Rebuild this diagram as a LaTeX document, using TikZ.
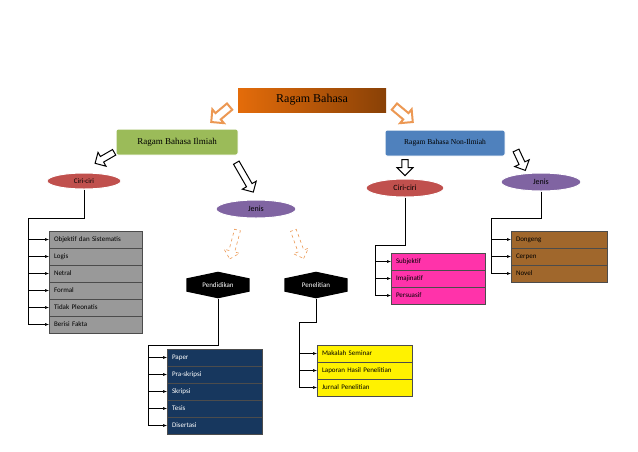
\documentclass[tikz,border=0pt]{standalone}
\usepackage{fontspec}
\setmainfont{Carlito}
\newfontfamily\tnr{Liberation Serif}
\usetikzlibrary{shapes.geometric,shapes.arrows,arrows.meta}
\definecolor{ored}{HTML}{C0504D}
\definecolor{opur}{HTML}{8064A2}
\definecolor{ograss}{HTML}{9BBB59}
\definecolor{oblue}{HTML}{4F81BD}
\definecolor{onavy}{HTML}{17375E}
\definecolor{obrown}{HTML}{A0672C}
\definecolor{opink}{HTML}{FF33AA}
\definecolor{oorange}{HTML}{E46C0A}
\begin{document}
\begin{tikzpicture}[x=1pt,y=-1pt,
 ell/.style={ellipse,draw=white,line width=1pt,minimum width=#1,minimum height=18pt,inner sep=0pt,font=\fontsize{8}{9}\selectfont},
 hex/.style={regular polygon,regular polygon sides=6,shape border rotate=90,fill=black,text=white,minimum size=28pt,inner sep=0pt,xscale=2.6,yscale=0.95,font=\fontsize{7}{8}\selectfont},
 item/.style={draw=black!70,anchor=north west,minimum height=17pt,inner xsep=5pt,inner ysep=2pt,text width=#1,font=\fontsize{7}{8}\selectfont,outer sep=0pt},
 barr/.style={single arrow,draw=black,fill=white,line width=1pt,minimum height=#1,minimum width=16pt,single arrow head extend=3pt,inner sep=1.5pt},
 oarr/.style={single arrow,draw=oorange!70,fill=white,line width=2pt,minimum height=24pt,minimum width=18pt,single arrow head extend=3pt,inner sep=1.5pt},
 darr/.style={single arrow,draw=oorange!70,dashed,fill=white,line width=0.6pt,minimum height=30pt,minimum width=16pt,single arrow head extend=3pt,inner sep=1.5pt},
 con/.style={draw=black,line width=0.5pt},
 tip/.style={-{Latex[length=4pt,width=3pt]},line width=0.5pt}]
\useasboundingbox (0,0) rectangle (638,451);
% titles
\node[left color=oorange,right color=oorange!60!black,minimum width=148pt,minimum height=24pt,font=\tnr\fontsize{12}{14}\selectfont] (rb) at (312,100) {Ragam Bahasa};
\node[fill=ograss,draw=white,line width=1pt,rounded corners=2pt,minimum width=122pt,minimum height=26pt,font=\tnr\fontsize{9}{11}\selectfont] (rbi) at (177,142) {Ragam Bahasa Ilmiah};
\node[fill=oblue,draw=white,line width=1pt,rounded corners=2pt,minimum width=120pt,minimum height=26pt,font=\tnr\fontsize{7.5}{9}\selectfont] (rbn) at (445,143) {Ragam Bahasa Non-Ilmiah};
% ellipses
\node[ell=74pt,fill=ored,minimum height=16pt,font=\fontsize{7}{8}\selectfont] (c1) at (84,181) {Ciri-ciri};
\node[ell=80pt,fill=opur] (j1) at (256,209) {Jenis};
\node[ell=78pt,fill=ored] (c2) at (405,188) {Ciri-ciri};
\node[ell=80pt,fill=opur] (j2) at (541,182) {Jenis};
% arrows
\node[oarr,rotate=-140] (a1) at (222,113) {};
\node[oarr,rotate=-40] (a2) at (402,113) {};
\node[barr=22pt,rotate=-150] (a3) at (106,157) {};
\node[barr=34pt,rotate=-60] (a4) at (244,176) {};
\node[barr=16pt,rotate=-90] (a5) at (405,166) {};
\node[barr=22pt,rotate=-65] (a6) at (520,159) {};
\node[darr,rotate=-105] (a7) at (234,243) {};
\node[darr,rotate=-70] (a8) at (298,243) {};
% hexagons
\node[hex] (hp) at (218,285) {};
\node[font=\fontsize{7}{8}\selectfont,text=white] (tp) at (hp) {Pendidikan};
\node[hex] (hl) at (316,285) {};
\node[font=\fontsize{7}{8}\selectfont,text=white] (tl) at (hl) {Penelitian};
% left list
\foreach \t [count=\i] in {Objektif dan Sistematis,Logis,Netral,Formal,Tidak Pleonatis,Berisi Fakta}{
 \node[item=83pt,fill=black!40] (l\i) at (49,{231+17*(\i-1)}) {\t};
 \draw[tip] (28,{239.5+17*(\i-1)}) -- (l\i.west);}
\draw[con] (c1.south) |- (28,218) -- (28,324.5);
% pendidikan list
\foreach \t [count=\i] in {Paper,Pra-skripsi,Skripsi,Tesis,Disertasi}{
 \node[item=85pt,fill=onavy,text=white] (p\i) at (167,{349+17*(\i-1)}) {\t};
 \draw[tip] (148,{357.5+17*(\i-1)}) -- (p\i.west);}
\draw[con] (tp.south |- hp.south) -- (218,345) -- (148,345) -- (148,425.5);
% penelitian list
\foreach \t [count=\i] in {Makalah Seminar,Laporan Hasil Penelitian,Jurnal Penelitian}{
 \node[item=85pt,fill=yellow] (r\i) at (317,{345+17*(\i-1)}) {\t};
 \draw[tip] (299,{353.5+17*(\i-1)}) -- (r\i.west);}
\draw[con] (tl.south |- hl.south) -- (316,322) -- (299,322) -- (299,387.5);
% ciri non ilmiah
\foreach \t [count=\i] in {Subjektif,Imajinatif,Persuasif}{
 \node[item=84pt,fill=opink] (s\i) at (391,{253+17*(\i-1)}) {\t};
 \draw[tip] (375,{261.5+17*(\i-1)}) -- (s\i.west);}
\draw[con] (c2.south) -- (405,245) -- (375,245) -- (375,295.5);
% jenis non ilmiah
\foreach \t [count=\i] in {Dongeng,Cerpen,Novel}{
 \node[item=86pt,fill=obrown] (n\i) at (511,{231+17*(\i-1)}) {\t};
 \draw[tip] (491,{239.5+17*(\i-1)}) -- (n\i.west);}
\draw[con] (j2.south) -- (541,218) -- (491,218) -- (491,273.5);
\end{tikzpicture}
\end{document}
